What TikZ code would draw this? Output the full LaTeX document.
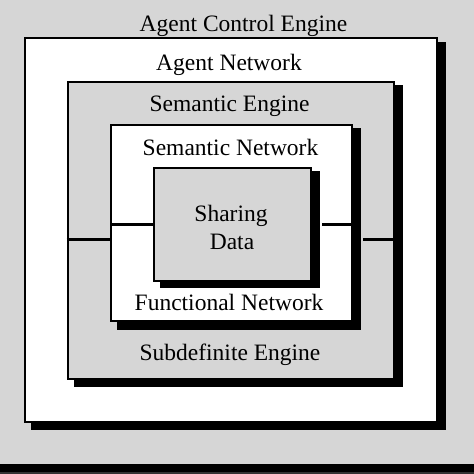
\documentclass[tikz,border=0pt]{standalone}
\usepackage{fontspec}
\setmainfont{Liberation Serif}
\definecolor{bggray}{RGB}{214,214,214}
\begin{document}
\begin{tikzpicture}[x=1pt,y=-1pt,
  box/.style={draw=black,line width=2pt,rectangle,inner sep=0pt,anchor=north west},
  lab/.style={font=\fontsize{23.5}{28}\selectfont,anchor=base,inner sep=0pt,align=center},
  shadowfill/.style={fill=black},
  link/.style={draw=black,line width=2.7pt}]
\useasboundingbox (0,0) rectangle (474,474);
\fill[bggray] (0,0) rectangle (474,474);
\fill[black] (0,464) rectangle (474,472);
\fill[black!80] (0,472) rectangle (474,474);
% outer white box
\fill[shadowfill] (31,42) rectangle (446,430);
\node[box,fill=white,minimum width=412.5pt,minimum height=384pt] (outer) at (23.5,37) {};
% gray box
\fill[shadowfill] (74,85) rectangle (403,387);
\node[box,fill=bggray,minimum width=326pt,minimum height=297.5pt] (gray) at (66.5,80.5) {};
% white box
\fill[shadowfill] (117,128) rectangle (361,330);
\node[box,fill=white,minimum width=241.5pt,minimum height=196.5pt] (white) at (109.5,123.5) {};
% sharing box
\fill[shadowfill] (160,171) rectangle (320,288);
\node[box,fill=bggray,minimum width=157.5pt,minimum height=113.5pt] (share) at (152.5,166.5) {};
% labels
\node[lab] (tace) at (243.5,31.5) {Agent Control Engine};
\node[lab] (tan) at (229,70) {Agent Network};
\node[lab] (tse) at (229.5,111) {Semantic Engine};
\node[lab] (tsn) at (230.5,155) {Semantic Network};
\node[lab] (tsh) at (231,221) {Sharing};
\node[lab] (tda) at (232,249) {Data};
\node[lab] (tfn) at (229,310.5) {Functional Network};
\node[lab] (tsd) at (230,360) {Subdefinite Engine};
% connectors
\coordinate (gl) at ([yshift=-9pt]gray.west);
\coordinate (gr) at ([yshift=-9pt]gray.east);
\coordinate (sl) at (share.west);
\coordinate (sr) at ([xshift=10pt]share.east);
\draw[link] (gl) -- (gl -| white.west);
\draw[link] (sl) -- (sl -| white.west);
\draw[link] (sr) -- (sr -| white.east);
\draw[link] (gr) -- ([xshift=10pt]gr -| white.east);
\end{tikzpicture}
\end{document}
